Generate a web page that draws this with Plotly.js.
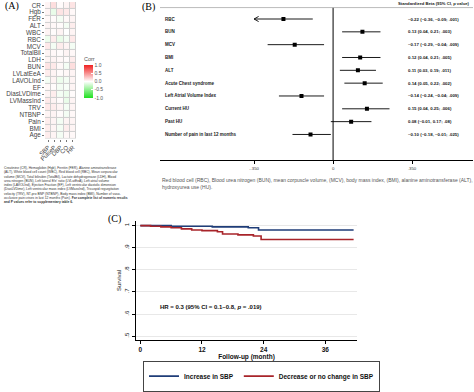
<!DOCTYPE html>
<html><head><meta charset="utf-8">
<script src="https://cdn.plot.ly/plotly-3.0.1.min.js"></script>
<style>html,body{margin:0;padding:0;background:#fff;}#c{width:474px;height:392px;}</style>
</head><body><div id="c"></div>
<script>
// ---- Panel A: correlation heatmap ----
const hmRows = ['CR','Hgb','FER','ALT','WBC','RBC','MCV','TotalBil','LDH','BUN','LVLatEeA','LAVOLInd','EF','DiasLVDime','LVMassInd','TRV','NTBNP','Pain','BMI','Age'];
const hmCols = ['SBP','PulseP','DBP','CO','HR'];
const hmZ = [
 [0.05, 0.15, 0.02, 0.05, 0.12],
 [0.05,-0.10, 0.12, 0.10, 0.03],
 [0.03, 0.02,-0.05, 0.03, 0.05],
 [0.05, 0.03, 0.02,-0.05, 0.08],
 [0.05, 0.02, 0.05, 0.00, 0.05],
 [-0.08,0.08,-0.10,-0.05, 0.10],
 [0.10,-0.05, 0.08, 0.05,-0.05],
 [0.05, 0.03, 0.02, 0.05, 0.03],
 [0.05, 0.05, 0.03, 0.02, 0.08],
 [0.12, 0.10, 0.03,-0.05, 0.15],
 [0.08, 0.05, 0.02, 0.03, 0.05],
 [-0.05,0.05,-0.08,-0.05, 0.05],
 [0.03, 0.02,-0.05,-0.03, 0.05],
 [0.05, 0.08,-0.05,-0.08, 0.02],
 [0.10, 0.05, 0.02,-0.10, 0.05],
 [0.10, 0.08, 0.05,-0.05, 0.05],
 [0.05, 0.05, 0.02,-0.05, 0.03],
 [0.08, 0.05,-0.05, 0.05, 0.05],
 [0.08, 0.05,-0.05, 0.08, 0.05],
 [0.08, 0.05,-0.05, 0.03, 0.03]
];
const cbTicks = [1, 0.5, 0, -0.5, -1];
const cbLabels = ['1.0','0.5','0.0','-0.5','-1.0'];

// ---- Panel B: forest plot ----
const fLabels = ['RBC','BUN','MCV','BMI','ALT','Acute Chest syndrome','Left Atrial Volume Index','Current HU','Past HU','Number of pain in last 12 months'];
const fEst = [-0.22, 0.13, -0.17, 0.12, 0.11, 0.14, -0.14, 0.15, 0.08, -0.10];
const fLo  = [-0.36, 0.04, -0.29, 0.04, 0.03, 0.05, -0.24, 0.04, -0.01, -0.18];
const fHi  = [-0.09, 0.21, -0.04, 0.21, 0.19, 0.22, -0.04, 0.25, 0.17, -0.01];
const fP   = ['.001','.003','.009','.005','.011','.002','.009','.006','.08','.025'];
const fTickVals = [-0.35, 0, 0.35];
const fTickText = ['-.350','0','.350'];

// ---- Panel C: Kaplan-Meier ----
const kmBlueT = [0, 6, 14, 21, 23, 41.5];
const kmBlueS = [1, 0.997, 0.994, 0.99, 0.98, 0.98];
const kmRedT = [0, 2, 4, 6, 8, 10, 12, 15, 16, 19, 22, 23.5, 41.5];
const kmRedS = [1, 0.997, 0.994, 0.99, 0.985, 0.98, 0.977, 0.972, 0.962, 0.958, 0.953, 0.937, 0.937];
const kmTicks = [0, 12, 24, 36];
const kmYTicks = [0.5, 0.6, 0.7, 0.8, 0.9, 1];
const kmYText = ['.5','.6','.7','.8','.9','1'];

const W = 474, H = 392;
const px = v => v / W;
const py = v => 1 - v / H;
const F = 'Arial, "Liberation Sans", sans-serif';
const SERIF = '"Times New Roman", "Liberation Serif", serif';

const fmt = v => (v < 0 ? '\u2013' : '') + Math.abs(v).toFixed(2);
const rowY = fLabels.map((_, i) => fLabels.length - i);

const clip = -0.35;
const drawLo = fLo.map(v => Math.max(v, clip));

const traces = [];
traces.push({
  type: 'heatmap', x: hmCols, y: hmRows, z: hmZ, xaxis: 'x', yaxis: 'y',
  zmin: -1, zmax: 1, xgap: 1, ygap: 1,
  colorscale: [[0, '#1fe01f'], [0.5, '#ffffff'], [1, '#f02020']],
  showscale: true, hoverinfo: 'skip',
  colorbar: {
    x: px(84), xanchor: 'left', y: py(80), yanchor: 'middle', len: 46 / H, lenmode: 'fraction',
    thickness: 9, xpad: 0, ypad: 0, outlinewidth: 0,
    tickvals: cbTicks, ticktext: cbLabels, tickfont: {family: F, size: 5, color: '#555'},
    ticks: 'inside', ticklen: 2, tickcolor: '#fff',
    title: {text: 'Corr', side: 'top', font: {family: F, size: 5.5, color: '#555'}}
  }
});
traces.push({
  type: 'scatter', mode: 'markers', x: fEst, y: rowY, xaxis: 'x2', yaxis: 'y2', showlegend: false,
  marker: {symbol: 'square', size: 4, color: '#000'},
  error_x: {type: 'data', symmetric: false, array: fHi.map((h, i) => h - fEst[i]),
            arrayminus: drawLo.map((l, i) => fEst[i] - l), width: 0, thickness: 0.9, color: '#000'},
  hoverinfo: 'skip'
});
fLo.forEach((l, i) => {
  if (l < clip) {
    traces.push({type: 'scatter', mode: 'lines', xaxis: 'x2', yaxis: 'y2', showlegend: false,
      x: [clip + 0.02, clip, clip + 0.02], y: [rowY[i] + 0.2, rowY[i], rowY[i] - 0.2],
      line: {color: '#000', width: 0.9}, hoverinfo: 'skip'});
  }
});
traces.push({type: 'scatter', mode: 'lines', x: kmBlueT, y: kmBlueS, xaxis: 'x3', yaxis: 'y3',
  name: '<b>Increase in SBP</b>', line: {color: '#1f3d78', width: 1.6, shape: 'hv'}, hoverinfo: 'skip'});
traces.push({type: 'scatter', mode: 'lines', x: kmRedT, y: kmRedS, xaxis: 'x3', yaxis: 'y3',
  name: '<b>Decrease or no change in SBP</b>', line: {color: '#a8242a', width: 1.6, shape: 'hv'}, hoverinfo: 'skip'});

const ann = [];
ann.push({text: '(A)', x: px(3), y: py(6), xref: 'paper', yref: 'paper', xanchor: 'left', yanchor: 'middle', showarrow: false, font: {family: SERIF, size: 10, color: '#000'}});
ann.push({text: '(B)', x: px(140), y: py(7), xref: 'paper', yref: 'paper', xanchor: 'left', yanchor: 'middle', showarrow: false, font: {family: SERIF, size: 10, color: '#000'}});
ann.push({text: '(C)', x: px(106), y: py(231), xref: 'paper', yref: 'paper', xanchor: 'left', yanchor: 'middle', showarrow: false, font: {family: SERIF, size: 10, color: '#000'}});
ann.push({text: '<b>Standardized Beta (95% CI, p value)</b>', x: px(472), y: py(4), xref: 'paper', yref: 'paper', xanchor: 'right', yanchor: 'middle', showarrow: false, font: {family: F, size: 4.2, color: '#222'}});

fLabels.forEach((l, i) => {
  ann.push({text: '<b>' + l + '</b>', x: px(163), y: rowY[i], xref: 'paper', yref: 'y2', xanchor: 'left', yanchor: 'middle', showarrow: false, font: {family: F, size: 4.5, color: '#222'}});
  ann.push({text: '<b>' + fmt(fEst[i]) + ' (' + fmt(fLo[i]) + ', ' + fmt(fHi[i]) + '; ' + fP[i] + ')</b>', x: px(406), y: rowY[i], xref: 'paper', yref: 'y2', xanchor: 'left', yanchor: 'middle', showarrow: false, font: {family: F, size: 4.4, color: '#222'}});
});
ann.push({text: 'Red blood cell (RBC), Blood urea nitrogen (BUN), mean corpuscle volume, (MCV), body mass index, (BMI), alanine aminotransferase (ALT),<br>hydroxyurea use (HU).',
  x: px(160), y: py(184), xref: 'paper', yref: 'paper', xanchor: 'left', yanchor: 'top', align: 'left', showarrow: false, font: {family: F, size: 5, color: '#555'}});
ann.push({text: 'Creatinine (CR), Hemoglobin (Hgb), Ferritin (FER), Alanine aminotransferase<br>(ALT), White blood cell count (WBC), Red blood cell (RBC), Mean corpuscular<br>volume (MCV), Total bilirubin (TotalBil), Lactate dehydrogenase (LDH), Blood<br>urea nitrogen (BUN), Left lateral E/e\' ratio (LVLatEeA), Left atrial volume<br>index (LAVOLInd), Ejection Fraction (EF), Left ventricular diastolic dimension<br>(DiasLVDime), Left ventricular mass index (LVMassInd), Tricuspid regurgitation<br>velocity (TRV), NT-pro BNP (NTBNP), Body mass index (BMI), Number of vaso-<br>occlusive pain crises in last 12 months (Pain). <b>For complete list of numeric results</b><br><b>and P values refer to supplementary table 6.</b>',
  x: px(2), y: py(173), xref: 'paper', yref: 'paper', xanchor: 'left', yanchor: 'top', align: 'left', showarrow: false, font: {family: F, size: 3.3, color: '#333'}});
ann.push({text: '<b>HR = 0.3 (95% CI = 0.1\u20130.8, <i>p</i> = .019)</b>', x: px(158), y: py(323), xref: 'paper', yref: 'paper', xanchor: 'left', yanchor: 'middle', showarrow: false, font: {family: F, size: 6, color: '#111'}});

const shapes = [
  {type: 'rect', xref: 'x domain', yref: 'y domain', x0: 0, x1: 1, y0: 0, y1: 1, fillcolor: '#cfcfcf', line: {width: 0}, layer: 'below'},
  {type: 'line', xref: 'x2', yref: 'y2 domain', x0: 0, x1: 0, y0: 0, y1: 1, line: {color: '#000', width: 1}},
  {type: 'line', xref: 'x2 domain', yref: 'y2 domain', x0: 0, x1: 1, y0: 1, y1: 1, line: {color: '#aaa', width: 0.8}}
];

const layout = {
  width: W, height: H, margin: {l: 0, r: 0, t: 0, b: 0},
  paper_bgcolor: '#fff', plot_bgcolor: 'rgba(0,0,0,0)',
  showlegend: true,
  legend: {orientation: 'h', x: px(143), y: py(380), xanchor: 'left', yanchor: 'top',
           bordercolor: '#444', borderwidth: 1, font: {family: F, size: 6.5, color: '#111'},
           itemwidth: 30, tracegroupgap: 0, bgcolor: '#fff'},
  xaxis: {domain: [px(45), px(76)], anchor: 'y', tickmode: 'array', tickvals: hmCols, ticktext: hmCols,
          tickangle: -45, tickfont: {family: F, size: 6, color: '#444'},
          ticks: 'outside', ticklen: 2, tickcolor: '#777', showgrid: false, zeroline: false, showline: false},
  yaxis: {domain: [py(146), py(2)], anchor: 'x', autorange: 'reversed', tickmode: 'array', tickvals: hmRows, ticktext: hmRows,
          tickfont: {family: F, size: 6.3, color: '#444'},
          ticks: 'outside', ticklen: 2, tickcolor: '#777', showgrid: false, zeroline: false, showline: false},
  xaxis2: {domain: [px(160), px(473)], anchor: 'y2', range: [-0.767, 0.620], tickvals: fTickVals, ticktext: fTickText,
           tickfont: {family: F, size: 4.3, color: '#333'}, ticks: 'outside', ticklen: 3, tickcolor: '#000',
           showline: true, linecolor: '#000', linewidth: 1, showgrid: false, zeroline: false},
  yaxis2: {domain: [py(169), py(8)], anchor: 'x2', range: [-1.02, 10.89], visible: false},
  xaxis3: {domain: [px(136), px(357)], anchor: 'y3', range: [-0.84, 42.16], tickvals: kmTicks,
           ticktext: kmTicks.map(t => '<b>' + t + '</b>'), tickfont: {family: F, size: 6.5, color: '#111'},
           ticks: 'outside', ticklen: 3, tickcolor: '#000', showline: true, linecolor: '#000', linewidth: 1.5,
           showgrid: false, zeroline: false,
           title: {text: '<b>Follow-up (month)</b>', font: {family: F, size: 6.5, color: '#111'}, standoff: 1}},
  yaxis3: {domain: [py(358), py(233)], anchor: 'x3', range: [0.4837, 1.0202], tickvals: kmYTicks, ticktext: kmYText,
           tickangle: -90, tickfont: {family: F, size: 6, color: '#111'}, ticks: 'outside', ticklen: 3, tickcolor: '#000',
           showline: true, linecolor: '#000', linewidth: 1.5, showgrid: true, gridcolor: '#e2e2e2', gridwidth: 0.8, zeroline: false,
           title: {text: 'Survival', font: {family: F, size: 6, color: '#111'}, standoff: 2}},
  annotations: ann, shapes: shapes
};
Plotly.newPlot('c', traces, layout, {displayModeBar: false, staticPlot: true});
</script></body></html>
